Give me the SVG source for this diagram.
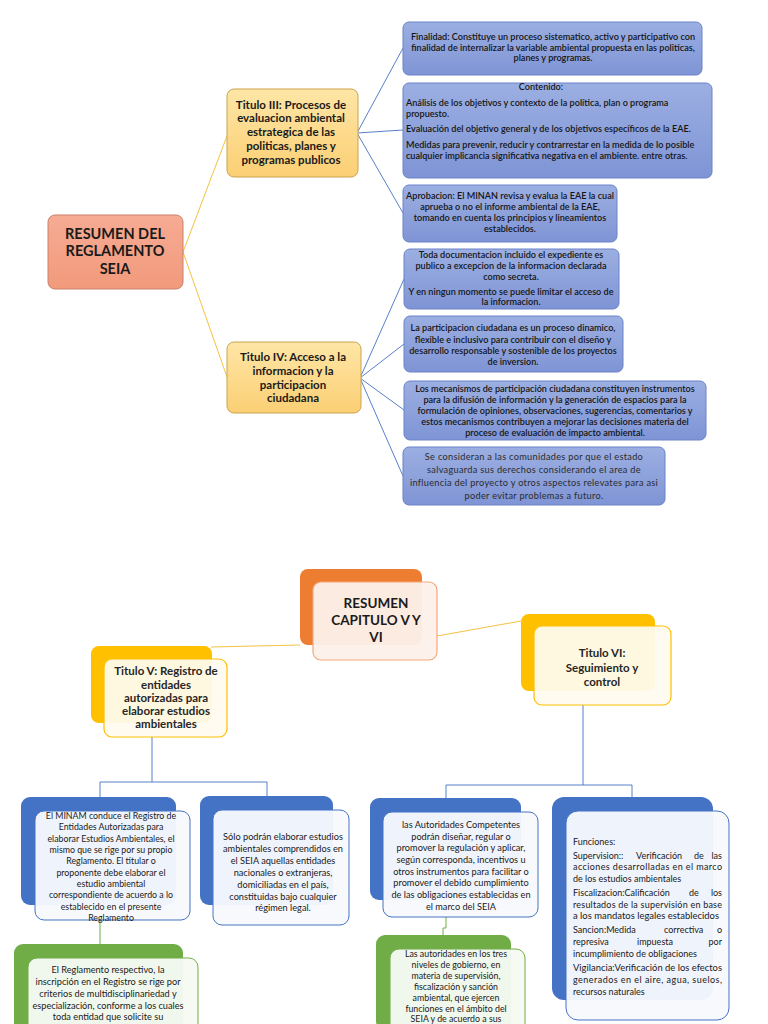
<svg xmlns="http://www.w3.org/2000/svg" width="768" height="1024" viewBox="0 0 768 1024">
<defs>
<linearGradient id="gBlue" x1="0" y1="0" x2="0" y2="1"><stop offset="0" stop-color="#9cafe2"/><stop offset="1" stop-color="#7f94d5"/></linearGradient>
<linearGradient id="gOr" x1="0" y1="0" x2="0" y2="1"><stop offset="0" stop-color="#fee6a6"/><stop offset="1" stop-color="#fbcf74"/></linearGradient>
<linearGradient id="gSal" x1="0" y1="0" x2="0" y2="1"><stop offset="0" stop-color="#f6ab93"/><stop offset="1" stop-color="#f29a7c"/></linearGradient>
</defs>
<style>
text{font-family:Lato,"Liberation Sans",sans-serif;fill:#1a1a1a}
.bl{fill:url(#gBlue);stroke:#6a83c8;stroke-width:1}
.t8{font-size:9.1px;font-weight:600;fill:#151515}
.t9{font-size:9.2px;fill:#2b2b2b;letter-spacing:0.3px}
.c{text-anchor:middle}
.ti{font-size:11.5px;font-weight:bold;text-anchor:middle}
.sm{font-size:8.8px;text-anchor:middle}
.sl{font-size:9.2px;text-anchor:middle}
.bb{fill:#4472c4}
.bf{fill:#f7f9fd;fill-opacity:0.96;stroke:#4472c4;stroke-width:1}
.gb{fill:#70ad47}
.gf{fill:#f6faf2;fill-opacity:0.96;stroke:#70ad47;stroke-width:1}
.yb{fill:#ffc000}
.yf{fill:#fffbef;fill-opacity:0.94;stroke:#ffc000;stroke-width:1.2}
.t2{font-size:11.5px;font-weight:bold;text-anchor:middle;fill:#262626}
</style>
<rect width="768" height="1024" fill="#ffffff"/>
<g id="connectors" fill="none">
<g stroke="#f5c242" stroke-width="1">
<line x1="183" y1="252" x2="227" y2="136"/>
<line x1="183" y1="252" x2="227" y2="377"/>
<line x1="211" y1="647" x2="300" y2="645"/>
<line x1="437" y1="636" x2="521" y2="621"/>
</g>
<g stroke="#4472c4" stroke-width="0.9">
<line x1="357" y1="133" x2="403" y2="48"/>
<line x1="357" y1="133" x2="403" y2="130"/>
<line x1="357" y1="133" x2="403" y2="213"/>
<line x1="360" y1="378" x2="404" y2="279"/>
<line x1="360" y1="378" x2="404" y2="344"/>
<line x1="360" y1="378" x2="404" y2="410"/>
<line x1="360" y1="378" x2="403" y2="476"/>
<polyline points="152,737 152,782"/>
<polyline points="100,797 100,782 267,782 267,797"/>
<polyline points="583,705 583,785"/>
<polyline points="446,798 446,785 632,785 632,798"/>
</g>
<g stroke="#70ad47" stroke-width="1">
<line x1="100" y1="920" x2="100" y2="944"/>
<polyline points="446,917 446,928 443,928 443,935"/>
</g>
</g>
<g id="n-resumen">
<rect x="48" y="215" width="135" height="74" rx="7" fill="url(#gSal)" stroke="#c9806a"/>
<text class="c" x="115" y="239" font-size="14.5" font-weight="bold">RESUMEN DEL</text>
<text class="c" x="115" y="256" font-size="14.5" font-weight="bold">REGLAMENTO</text>
<text class="c" x="115" y="274" font-size="14.5" font-weight="bold">SEIA</text>
</g>
<g id="n-titulo3">
<rect x="227" y="89" width="131" height="88" rx="7" fill="url(#gOr)" stroke="#c9a44f"/>
<text class="ti" x="291" y="109">Titulo III: Procesos de</text>
<text class="ti" x="291" y="122">evaluacion ambiental</text>
<text class="ti" x="291" y="136">estrategica de las</text>
<text class="ti" x="291" y="150">politicas, planes y</text>
<text class="ti" x="291" y="164">programas publicos</text>
</g>
<g id="n-titulo4">
<rect x="227" y="342" width="134" height="71" rx="7" fill="url(#gOr)" stroke="#c9a44f"/>
<text class="ti" x="293" y="361">Titulo IV: Acceso a la</text>
<text class="ti" x="293" y="375">informacion y la</text>
<text class="ti" x="293" y="389">participacion</text>
<text class="ti" x="293" y="402">ciudadana</text>
</g>
<g id="n-finalidad">
<rect class="bl" x="403" y="22" width="299" height="53" rx="6"/>
<text class="t8 c" x="553" y="40">Finalidad: Constituye un proceso sistematico, activo y participativo con</text>
<text class="t8 c" x="553" y="51">finalidad de internalizar la variable ambiental propuesta en las politicas,</text>
<text class="t8 c" x="553" y="61">planes y programas.</text>
</g>
<g id="n-contenido">
<rect class="bl" x="403" y="83" width="309" height="95" rx="6"/>
<text class="t8 c" x="541" y="90">Contenido:</text>
<text class="t8" x="406" y="106">Análisis de los objetivos y contexto de la política, plan o programa</text>
<text class="t8" x="406" y="117">propuesto.</text>
<text class="t8" x="406" y="132">Evaluación del objetivo general y de los objetivos específicos de la EAE.</text>
<text class="t8" x="406" y="148">Medidas para prevenir, reducir y contrarrestar en la medida de lo posible</text>
<text class="t8" x="406" y="159">cualquier implicancia significativa negativa en el ambiente. entre otras.</text>
</g>
<g id="n-aprobacion">
<rect class="bl" x="403" y="185" width="214" height="57" rx="6"/>
<text class="t8 c" x="510" y="199">Aprobacion: El MINAN revisa y evalua la EAE la cual</text>
<text class="t8 c" x="510" y="210">aprueba o no el informe ambiental de la EAE,</text>
<text class="t8 c" x="510" y="221">tomando en cuenta los principios y lineamientos</text>
<text class="t8 c" x="510" y="232">establecidos.</text>
</g>
<g id="n-documentacion">
<rect class="bl" x="404" y="249" width="215" height="60" rx="6"/>
<text class="t8 c" x="511" y="258">Toda documentacion incluido el expediente es</text>
<text class="t8 c" x="511" y="269">publico a excepcion de la informacion declarada</text>
<text class="t8 c" x="511" y="280">como secreta.</text>
<text class="t8 c" x="511" y="295">Y en ningun momento se puede limitar el acceso de</text>
<text class="t8 c" x="511" y="305">la informacion.</text>
</g>
<g id="n-participacion">
<rect class="bl" x="404" y="316" width="219" height="56" rx="6"/>
<text class="t8 c" x="513" y="331">La participacion ciudadana es un proceso dinamico,</text>
<text class="t8 c" x="513" y="343">flexible e inclusivo para contribuir con el diseño y</text>
<text class="t8 c" x="513" y="354">desarrollo responsable y sostenible de los proyectos</text>
<text class="t8 c" x="513" y="365">de inversion.</text>
</g>
<g id="n-mecanismos">
<rect class="bl" x="404" y="381" width="302" height="59" rx="6"/>
<text class="t8 c" x="555" y="392">Los mecanismos de participación ciudadana constituyen instrumentos</text>
<text class="t8 c" x="555" y="403">para la difusión de información y la generación de espacios para la</text>
<text class="t8 c" x="555" y="414">formulación de opiniones, observaciones, sugerencias, comentarios y</text>
<text class="t8 c" x="555" y="425">estos mecanismos contribuyen a mejorar las decisiones materia del</text>
<text class="t8 c" x="555" y="436">proceso de evaluación de impacto ambiental.</text>
</g>
<g id="n-comunidades">
<rect class="bl" x="403" y="447" width="262" height="58" rx="6"/>
<text class="t9 c" x="534" y="460">Se consideran a las comunidades por que el estado</text>
<text class="t9 c" x="534" y="473">salvaguarda sus derechos considerando el area de</text>
<text class="t9 c" x="534" y="486">influencia del proyecto y otros aspectos relevates para asi</text>
<text class="t9 c" x="534" y="499">poder evitar problemas a futuro.</text>
</g>
<g id="n-capitulo">
<rect x="300" y="569" width="122" height="76" rx="8" fill="#ed7d31"/>
<rect x="313" y="582" width="124" height="78" rx="8" fill="#fdf1ea" fill-opacity="0.95" stroke="#f4a878" stroke-width="1.2"/>
<text class="c" x="376" y="608" font-size="13.5" font-weight="bold">RESUMEN</text>
<text class="c" x="376" y="625" font-size="13.5" font-weight="bold">CAPITULO V Y</text>
<text class="c" x="376" y="642" font-size="13.5" font-weight="bold">VI</text>
</g>
<g id="n-titulo5">
<rect class="yb" x="91" y="646" width="121" height="77" rx="8"/>
<rect class="yf" x="104" y="659" width="123" height="78" rx="8"/>
<text class="t2" x="166" y="675">Titulo V: Registro de</text>
<text class="t2" x="166" y="689">entidades</text>
<text class="t2" x="166" y="702">autorizadas para</text>
<text class="t2" x="166" y="715">elaborar estudios</text>
<text class="t2" x="166" y="728">ambientales</text>
</g>
<g id="n-titulo6">
<rect class="yb" x="521" y="614" width="134" height="77" rx="8"/>
<rect class="yf" x="534" y="626" width="137" height="79" rx="8"/>
<text class="t2" x="602" y="657">Titulo VI:</text>
<text class="t2" x="602" y="672">Seguimiento y</text>
<text class="t2" x="602" y="686">control</text>
</g>
<g id="n-minam">
<rect class="bb" x="21" y="797" width="155" height="108" rx="9"/>
<rect class="bf" x="35" y="811" width="155" height="109" rx="9"/>
<text class="sm" x="111" y="819">El MINAM conduce el Registro de</text>
<text class="sm" x="111" y="830">Entidades Autorizadas para</text>
<text class="sm" x="111" y="842">elaborar Estudios Ambientales, el</text>
<text class="sm" x="111" y="853">mismo que se rige por su propio</text>
<text class="sm" x="111" y="864">Reglamento. El titular o</text>
<text class="sm" x="111" y="876">proponente debe elaborar el</text>
<text class="sm" x="111" y="887">estudio ambiental</text>
<text class="sm" x="111" y="898">correspondiente de acuerdo a lo</text>
<text class="sm" x="111" y="910">establecido en el presente</text>
<text class="sm" x="111" y="921">Reglamento</text>
</g>
<g id="n-solo">
<rect class="bb" x="200" y="796" width="133" height="109" rx="9"/>
<rect class="bf" x="213" y="810" width="136" height="115" rx="9"/>
<text class="sl" x="283" y="840">Sólo podrán elaborar estudios</text>
<text class="sl" x="283" y="852">ambientales comprendidos en</text>
<text class="sl" x="283" y="864">el SEIA aquellas entidades</text>
<text class="sl" x="283" y="876">nacionales o extranjeras,</text>
<text class="sl" x="283" y="888">domiciliadas en el país,</text>
<text class="sl" x="283" y="900">constituidas bajo cualquier</text>
<text class="sl" x="283" y="911">régimen legal.</text>
</g>
<g id="n-autoridades">
<rect class="bb" x="370" y="798" width="151" height="102" rx="9"/>
<rect class="bf" x="383" y="812" width="155" height="105" rx="9"/>
<text class="sl" x="461" y="828">las Autoridades Competentes</text>
<text class="sl" x="461" y="840">podrán diseñar, regular o</text>
<text class="sl" x="461" y="851">promover la regulación y aplicar,</text>
<text class="sl" x="461" y="863">según corresponda, incentivos u</text>
<text class="sl" x="461" y="875">otros instrumentos para facilitar o</text>
<text class="sl" x="461" y="886">promover el debido cumplimiento</text>
<text class="sl" x="461" y="898">de las obligaciones establecidas en</text>
<text class="sl" x="461" y="910">el marco del SEIA</text>
</g>
<g id="n-funciones">
<rect class="bb" x="552" y="797" width="161" height="203" rx="12"/>
<rect class="bf" x="566" y="811" width="163" height="209" rx="12"/>
<g font-size="9px">
<text x="573" y="845">Funciones:</text>
<text y="859"><tspan x="573">Supervision::</tspan><tspan x="636">Verificación</tspan><tspan x="694">de</tspan><tspan x="722" text-anchor="end">las</tspan></text>
<text x="573" y="870" textLength="149" lengthAdjust="spacing">acciones desarrolladas en el marco</text>
<text x="573" y="882">de los estudios ambientales</text>
<text y="896"><tspan x="573">Fiscalizacion:Calificación</tspan><tspan x="689">de</tspan><tspan x="722" text-anchor="end">los</tspan></text>
<text x="573" y="908" textLength="149" lengthAdjust="spacing">resultados de la supervisión en base</text>
<text x="573" y="919" textLength="146" lengthAdjust="spacingAndGlyphs">a los mandatos legales establecidos</text>
<text y="933"><tspan x="573">Sancion:Medida</tspan><tspan x="664">correctiva</tspan><tspan x="722" text-anchor="end">o</tspan></text>
<text y="945"><tspan x="573">represiva</tspan><tspan x="637">impuesta</tspan><tspan x="722" text-anchor="end">por</tspan></text>
<text x="573" y="957">incumplimiento de obligaciones</text>
<text x="573" y="971" textLength="149" lengthAdjust="spacingAndGlyphs">Vigilancia:Verificación de los efectos</text>
<text x="573" y="983" textLength="149" lengthAdjust="spacing">generados en el aire, agua, suelos,</text>
<text x="573" y="995">recursos naturales</text>
</g>
</g>
<g id="n-reglamento">
<rect class="gb" x="14" y="944" width="169" height="90" rx="9"/>
<rect class="gf" x="28" y="958" width="170" height="80" rx="9"/>
<text class="sl" x="108" y="973">El Reglamento respectivo, la</text>
<text class="sl" x="108" y="985">inscripción en el Registro se rige por</text>
<text class="sl" x="108" y="997">criterios de multidisciplinariedad y</text>
<text class="sl" x="108" y="1009">especialización, conforme a los cuales</text>
<text class="sl" x="108" y="1020">toda entidad que solicite su</text>
</g>
<g id="n-niveles">
<rect class="gb" x="376" y="935" width="135" height="95" rx="9"/>
<rect class="gf" x="390" y="949" width="135" height="85" rx="9"/>
<text class="sm" x="456" y="957">Las autoridades en los tres</text>
<text class="sm" x="456" y="968">niveles de gobierno, en</text>
<text class="sm" x="456" y="979">materia de supervisión,</text>
<text class="sm" x="456" y="990">fiscalización y sanción</text>
<text class="sm" x="456" y="1001">ambiental, que ejercen</text>
<text class="sm" x="456" y="1012">funciones en el ámbito del</text>
<text class="sm" x="456" y="1022">SEIA y de acuerdo a sus</text>
</g>
</svg>
